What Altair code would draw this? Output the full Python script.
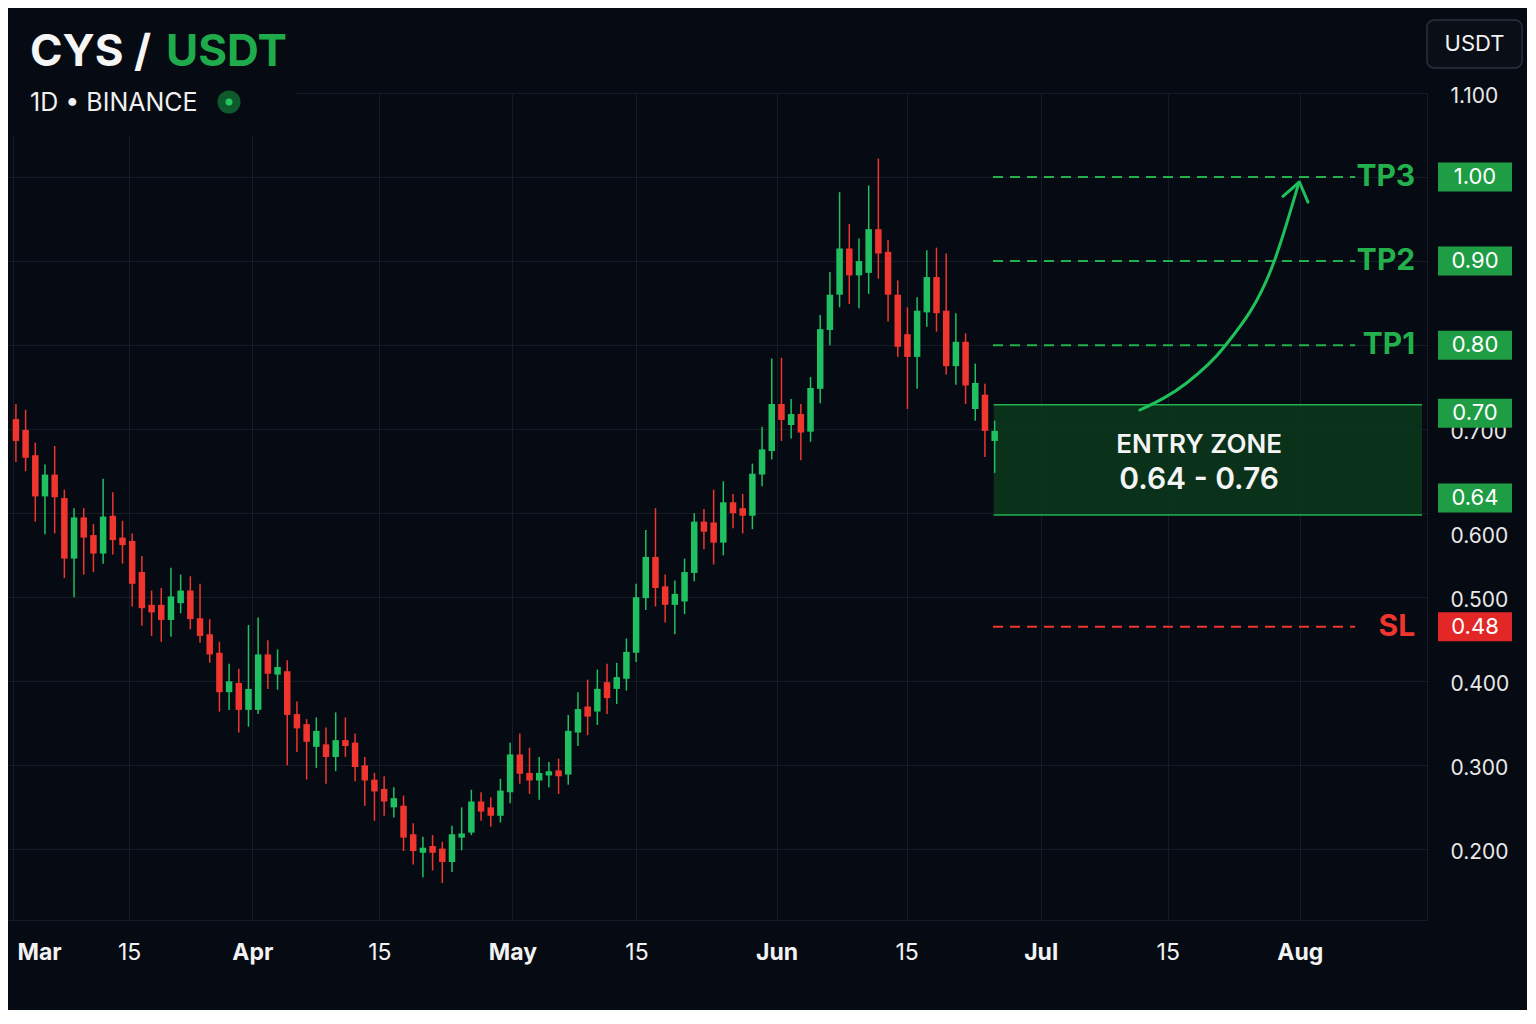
import altair as alt
import pandas as pd

# ---------------- data ----------------
opens = [0.712, 0.699, 0.669, 0.620, 0.646, 0.618, 0.546, 0.595, 0.574, 0.552,
         0.597, 0.571, 0.567, 0.530, 0.491, 0.491, 0.473, 0.493, 0.508, 0.475,
         0.456, 0.434, 0.387, 0.398, 0.366, 0.366, 0.432, 0.408, 0.412, 0.361,
         0.349, 0.322, 0.325, 0.310, 0.330, 0.327, 0.300, 0.283, 0.272, 0.250,
         0.252, 0.218, 0.196, 0.204, 0.201, 0.185, 0.214, 0.220, 0.257, 0.250,
         0.240, 0.268, 0.313, 0.291, 0.282, 0.288, 0.294, 0.289, 0.339, 0.370,
         0.364, 0.399, 0.391, 0.403, 0.434, 0.499, 0.548, 0.513, 0.491, 0.495,
         0.529, 0.590, 0.589, 0.565, 0.613, 0.606, 0.597, 0.646, 0.674, 0.730,
         0.705, 0.718, 0.697, 0.748, 0.818, 0.860, 0.915, 0.883, 0.886, 0.938,
         0.911, 0.860, 0.813, 0.786, 0.839, 0.881, 0.841, 0.775, 0.804, 0.724,
         0.741, 0.686]
highs = [0.730, 0.723, 0.684, 0.658, 0.680, 0.628, 0.606, 0.606, 0.587, 0.641,
         0.625, 0.591, 0.576, 0.549, 0.508, 0.511, 0.535, 0.527, 0.525, 0.516,
         0.474, 0.447, 0.421, 0.415, 0.467, 0.476, 0.449, 0.438, 0.425, 0.376,
         0.355, 0.357, 0.345, 0.363, 0.357, 0.338, 0.310, 0.291, 0.287, 0.274,
         0.264, 0.231, 0.215, 0.217, 0.209, 0.228, 0.250, 0.271, 0.268, 0.262,
         0.284, 0.327, 0.338, 0.321, 0.310, 0.304, 0.308, 0.360, 0.387, 0.402,
         0.414, 0.421, 0.422, 0.451, 0.516, 0.580, 0.606, 0.527, 0.520, 0.546,
         0.600, 0.605, 0.628, 0.638, 0.623, 0.623, 0.659, 0.703, 0.784, 0.785,
         0.736, 0.730, 0.762, 0.836, 0.887, 0.982, 0.944, 0.927, 0.990, 1.022,
         0.925, 0.877, 0.845, 0.857, 0.913, 0.916, 0.909, 0.838, 0.814, 0.778,
         0.754, 0.710]
lows = [0.661, 0.650, 0.590, 0.575, 0.576, 0.523, 0.500, 0.527, 0.530, 0.540,
        0.551, 0.540, 0.489, 0.466, 0.454, 0.447, 0.453, 0.481, 0.462, 0.446,
        0.422, 0.364, 0.366, 0.339, 0.346, 0.361, 0.391, 0.390, 0.300, 0.316,
        0.283, 0.297, 0.278, 0.293, 0.310, 0.281, 0.252, 0.234, 0.240, 0.238,
        0.198, 0.182, 0.167, 0.175, 0.160, 0.173, 0.199, 0.217, 0.234, 0.227,
        0.232, 0.255, 0.278, 0.266, 0.259, 0.274, 0.266, 0.277, 0.323, 0.336,
        0.348, 0.361, 0.373, 0.389, 0.423, 0.485, 0.489, 0.470, 0.456, 0.480,
        0.519, 0.557, 0.539, 0.550, 0.582, 0.576, 0.581, 0.632, 0.664, 0.686,
        0.689, 0.663, 0.685, 0.731, 0.800, 0.845, 0.849, 0.844, 0.861, 0.879,
        0.828, 0.786, 0.724, 0.748, 0.822, 0.816, 0.765, 0.753, 0.730, 0.710,
        0.667, 0.648]
closes = [0.686, 0.666, 0.620, 0.646, 0.619, 0.546, 0.595, 0.571, 0.552, 0.596,
          0.568, 0.562, 0.516, 0.487, 0.482, 0.473, 0.501, 0.508, 0.474, 0.454,
          0.432, 0.387, 0.400, 0.366, 0.391, 0.432, 0.409, 0.417, 0.360, 0.344,
          0.328, 0.341, 0.310, 0.330, 0.323, 0.298, 0.282, 0.269, 0.257, 0.261,
          0.214, 0.198, 0.202, 0.196, 0.185, 0.218, 0.219, 0.257, 0.245, 0.240,
          0.270, 0.313, 0.290, 0.282, 0.291, 0.293, 0.287, 0.341, 0.367, 0.358,
          0.391, 0.380, 0.405, 0.435, 0.500, 0.548, 0.511, 0.491, 0.504, 0.530,
          0.590, 0.578, 0.565, 0.613, 0.600, 0.597, 0.647, 0.676, 0.730, 0.711,
          0.718, 0.696, 0.749, 0.819, 0.860, 0.915, 0.883, 0.900, 0.938, 0.909,
          0.860, 0.798, 0.786, 0.841, 0.881, 0.838, 0.775, 0.804, 0.752, 0.755,
          0.698, 0.698]

# x axis: bar index positions of the date ticks
tick_pos = [-0.3, 11.69, 24.39, 37.51, 51.24, 64.04, 78.49, 91.91, 105.75, 118.86, 132.49]
tick_labels = ["Mar", "15", "Apr", "15", "May", "15", "Jun", "15", "Jul", "15", "Aug"]
y_ticks = [0.2, 0.3, 0.4, 0.5, 0.6, 0.7, 0.8, 0.9, 1.0, 1.1]
y_hidden = [0.8, 0.9, 1.0]   # price labels covered by the level tags

# trade levels
tp_names = ["TP3", "TP2", "TP1"]
tp_levels = [1.00, 0.90, 0.80]
sl_name = "SL"
sl_level = 0.465
level_start = 100.83
level_end = 138.2
level_label_at = 144.4

zone_low = 0.598
zone_high = 0.729
zone_start = 100.9
zone_end = 145.1
zone_title = "ENTRY ZONE"
zone_range = "0.64 - 0.76"
zone_text_x = 122.1
zone_title_y = 0.681
zone_range_y = 0.6395

tag_texts = ["1.00", "0.90", "0.80", "0.70", "0.64", "0.48"]
tag_values = [1.00, 0.90, 0.80, 0.719, 0.618, 0.465]
tag_kinds = ["tp", "tp", "tp", "entry", "entry", "sl"]

arrow_x = [115.99, 120.81, 124.60, 129.82, 132.38]
arrow_y = [0.7228, 0.7549, 0.7966, 0.8989, 0.9929]
arrow_tip_x = [132.45]
arrow_tip_y = [0.9941]

# ---------------- style ----------------
BG = "#060a12"
GRID = "#161c27"
UP = "#1fbf62"
DOWN = "#f0352e"
ACCENT = "#22b14c"
TAG_GREEN = "#1f9d45"
TAG_RED = "#e32626"
FONT = "Inter"

xscale = alt.Scale(domain=[-0.3, 145.1], nice=False, zero=False)
yscale = alt.Scale(domain=[0.116, 1.1], nice=False, zero=False)

label_expr = ""
for p, l in zip(tick_pos, tick_labels):
    label_expr += f"abs(datum.value - ({p})) < 0.01 ? '{l}' : "
label_expr += "''"
bold_test = " || ".join(
    f"abs(datum.value - ({p})) < 0.01" for p, l in zip(tick_pos, tick_labels) if l != "15"
)
first_test = f"datum.value < {tick_pos[0] + 0.01}"
y_label_expr = " || ".join(f"abs(datum.value - {v}) < 0.001" for v in y_hidden) + " ? '' : datum.label"

xaxis = alt.Axis(
    values=tick_pos, labelExpr=label_expr, title=None, grid=True, gridColor=GRID,
    domain=True, domainColor=GRID, ticks=False, labelPadding=21, labelFont=FONT,
    labelFontSize=23, labelColor="#f2f2f2", labelFlush=False, labelOverlap=False,
    labelAlign={"condition": {"test": first_test, "value": "left"}, "value": "center"},
    labelOffset={"condition": {"test": first_test, "value": 4}, "value": 0},
    labelFontWeight={"condition": {"test": bold_test, "value": "bold"}, "value": "normal"},
)
yaxis = alt.Axis(
    orient="right", values=y_ticks, format=".3f", labelExpr=y_label_expr, title=None,
    grid=True, gridColor=GRID, domain=True, domainColor=GRID, ticks=False, labelPadding=23,
    labelFont=FONT, labelFontSize=21, labelColor="#e8e8e8", labelOverlap=False,
    labelOffset={"condition": {"test": "abs(datum.value - 0.6) < 0.001", "value": 23}, "value": 3},
)


def X(f):
    return alt.X(f"{f}:Q", scale=xscale, axis=xaxis)


def Y(f):
    return alt.Y(f"{f}:Q", scale=yscale, axis=yaxis)


candles = pd.DataFrame({"i": list(range(len(opens))), "open": opens, "high": highs,
                        "low": lows, "close": closes})
candle_color = alt.condition("datum.close >= datum.open", alt.value(UP), alt.value(DOWN))

zone_df = pd.DataFrame({"x0": [zone_start], "x1": [zone_end], "lo": [zone_low], "hi": [zone_high]})
zone_edges = pd.DataFrame({"x0": [zone_start, zone_start], "x1": [zone_end, zone_end],
                           "lv": [zone_low, zone_high]})
tp_df = pd.DataFrame({"name": tp_names, "lv": tp_levels, "x0": level_start, "x1": level_end,
                      "lx": level_label_at})
sl_df = pd.DataFrame({"name": [sl_name], "lv": [sl_level], "x0": [level_start], "x1": [level_end],
                      "lx": [level_label_at]})
zone_txt = pd.DataFrame({"t": [zone_title, zone_range], "x": [zone_text_x, zone_text_x],
                         "y": [zone_title_y, zone_range_y], "k": ["title", "range"]})
arrow_df = pd.DataFrame({"x": arrow_x, "y": arrow_y})
tip_df = pd.DataFrame({"x": arrow_tip_x, "y": arrow_tip_y})
tag_df = pd.DataFrame({"t": tag_texts, "v": tag_values, "kind": tag_kinds})
one = pd.DataFrame({"a": [0]})

layers = []

layers.append(alt.Chart(zone_df).mark_rect(color="#0b361c", opacity=0.92).encode(
    x=X("x0"), x2="x1", y=Y("lo"), y2="hi"))
layers.append(alt.Chart(zone_edges).mark_rule(color=ACCENT, strokeWidth=1.5).encode(
    x=X("x0"), x2="x1", y=Y("lv")))

layers.append(alt.Chart(candles).mark_rule(strokeWidth=1.5).encode(
    x=X("i"), y=Y("low"), y2="high", color=candle_color))
layers.append(alt.Chart(candles).mark_bar(size=6.5).encode(
    x=X("i"), y=Y("open"), y2="close", color=candle_color))

layers.append(alt.Chart(tp_df).mark_rule(color=ACCENT, strokeWidth=2, strokeDash=[10, 7]).encode(
    x=X("x0"), x2="x1", y=Y("lv")))
layers.append(alt.Chart(sl_df).mark_rule(color=DOWN, strokeWidth=2, strokeDash=[10, 7]).encode(
    x=X("x0"), x2="x1", y=Y("lv")))

layers.append(alt.Chart(arrow_df).mark_line(color="#1fc15a", strokeWidth=3, interpolate="monotone",
                                            strokeCap="round").encode(x=X("x"), y=Y("y")))
layers.append(alt.Chart(tip_df).mark_point(
    shape="M -0.59 0.81 L 0 0 L 0.59 0.81", filled=False, strokeWidth=3, size=1900, angle=13,
    color="#1fc15a", opacity=1, strokeCap="round", strokeJoin="round").encode(x=X("x"), y=Y("y")))

layers.append(alt.Chart(tp_df).mark_text(align="right", baseline="middle", font=FONT, fontSize=30,
                                         fontWeight="bold", color=ACCENT).encode(
    x=X("lx"), y=Y("lv"), text="name:N"))
layers.append(alt.Chart(sl_df).mark_text(align="right", baseline="middle", font=FONT, fontSize=30,
                                         fontWeight="bold", color=DOWN).encode(
    x=X("lx"), y=Y("lv"), text="name:N"))

layers.append(alt.Chart(zone_txt).mark_text(align="center", baseline="middle", font=FONT,
                                            fontWeight=600, color="#f4f4f4").encode(
    x=X("x"), y=Y("y"), text="t:N",
    size=alt.condition("datum.k == 'title'", alt.value(26), alt.value(30))))

layers.append(alt.Chart(tag_df).mark_rule(strokeWidth=29, strokeCap="butt").encode(
    x=alt.value(1430), x2=alt.value(1504), y=Y("v"),
    color=alt.condition("datum.kind == 'sl'", alt.value(TAG_RED), alt.value(TAG_GREEN))))
layers.append(alt.Chart(tag_df).mark_text(align="center", baseline="middle", font=FONT, fontSize=22,
                                          color="#ffffff").encode(
    x=alt.value(1467), y=Y("v"), text="t:N"))

# header
layers.append(alt.Chart(one).mark_rect(color=BG).encode(
    x=alt.value(-8), x2=alt.value(287), y=alt.value(-93), y2=alt.value(42)))
layers.append(alt.Chart(one).mark_text(align="left", baseline="alphabetic", font=FONT, fontSize=44,
                                       fontWeight="bold", color="#f5f5f5", text="CYS /").encode(
    x=alt.value(22), y=alt.value(-27)))
layers.append(alt.Chart(one).mark_text(align="left", baseline="alphabetic", font=FONT, fontSize=44,
                                       fontWeight="bold", color="#1faa4b", text="USDT").encode(
    x=alt.value(158), y=alt.value(-27)))
layers.append(alt.Chart(one).mark_text(align="left", baseline="alphabetic", font=FONT, fontSize=25,
                                       color="#f0f0f0", text="1D • BINANCE").encode(
    x=alt.value(22), y=alt.value(18)))
layers.append(alt.Chart(one).mark_point(shape="circle", filled=True, size=530, color="#0f5a2c",
                                        opacity=1).encode(x=alt.value(221), y=alt.value(9)))
layers.append(alt.Chart(one).mark_point(shape="circle", filled=True, size=49, color="#22c55e",
                                        opacity=1).encode(x=alt.value(221), y=alt.value(9)))
layers.append(alt.Chart(one).mark_rect(fill="#0a0e17", stroke="#2b313c", strokeWidth=1.5,
                                       cornerRadius=7).encode(
    x=alt.value(1419), x2=alt.value(1514), y=alt.value(-73), y2=alt.value(-25)))
layers.append(alt.Chart(one).mark_text(align="center", baseline="middle", font=FONT, fontSize=22,
                                       color="#f2f2f2", text="USDT").encode(
    x=alt.value(1466.5), y=alt.value(-49)))

chart = alt.layer(*layers).properties(
    width=1419, height=827,
    autosize=alt.AutoSizeParams(type="none"),
    padding={"left": 0, "top": 85, "right": 100, "bottom": 90},
    background=BG,
).configure_view(stroke=None)

chart.save("out.html", embed_options={"renderer": "svg", "actions": False})
